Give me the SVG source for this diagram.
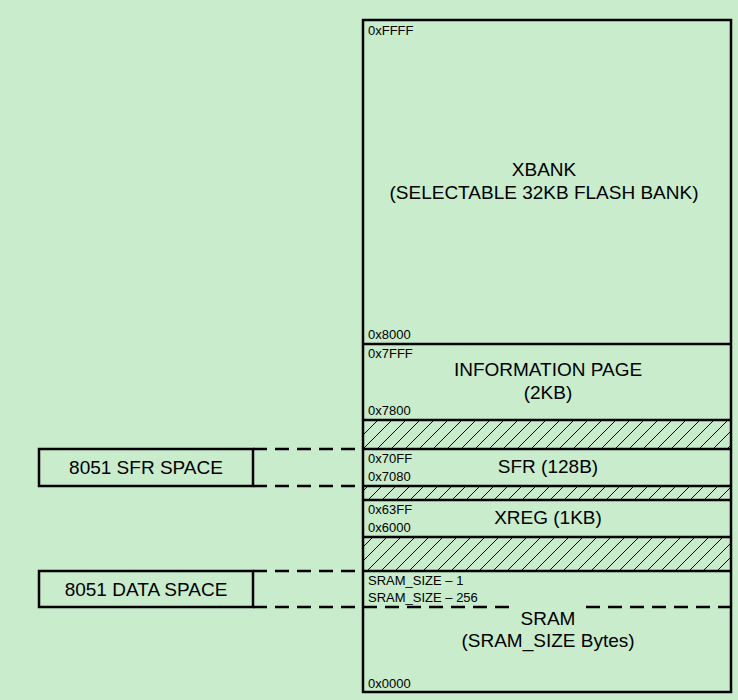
<svg xmlns="http://www.w3.org/2000/svg" width="738" height="700" viewBox="0 0 738 700">
<style>
.b{fill:none;stroke:#000;stroke-width:2.5}
.d{stroke:#000;stroke-width:2.5;stroke-dasharray:14,8;fill:none}
.s{font-family:"Liberation Sans",Arial,sans-serif;font-size:13px;fill:#000}
.m{font-family:"Liberation Sans",Arial,sans-serif;font-size:19px;fill:#000;text-anchor:middle}
</style>
<defs>
<pattern id="h" patternUnits="userSpaceOnUse" width="14" height="14">
<path d="M-2,16 L16,-2" stroke="#000" stroke-width="1"/>
<path d="M-2,2 L2,-2 M12,16 L16,12" stroke="#000" stroke-width="1"/>
</pattern>
</defs>
<rect width="738" height="700" fill="#c8eccc"/>
<g id="hatch">
<rect x="363" y="420" width="368" height="29" fill="url(#h)"/>
<rect x="363" y="486" width="368" height="14" fill="url(#h)"/>
<rect x="363" y="537" width="368" height="34" fill="url(#h)"/>
</g>
<g id="column">
<rect class="b" x="363" y="20" width="368" height="672"/>
<path class="b" d="M363,344H731M363,420H731M363,449H731M363,486H731M363,500H731M363,537H731M363,571H731"/>
</g>
<g id="xbank">
<text class="s" x="368" y="35">0xFFFF</text>
<text class="m" x="544" y="176">XBANK</text>
<text class="m" x="544" y="199">(SELECTABLE 32KB FLASH BANK)</text>
<text class="s" x="368" y="339">0x8000</text>
</g>
<g id="info">
<text class="s" x="368" y="358">0x7FFF</text>
<text class="m" x="548" y="376">INFORMATION PAGE</text>
<text class="m" x="548" y="399">(2KB)</text>
<text class="s" x="368" y="415">0x7800</text>
</g>
<g id="sfr">
<text class="s" x="368" y="463">0x70FF</text>
<text class="s" x="368" y="481">0x7080</text>
<text class="m" x="548" y="473">SFR (128B)</text>
</g>
<g id="xreg">
<text class="s" x="368" y="514">0x63FF</text>
<text class="s" x="368" y="532">0x6000</text>
<text class="m" x="548" y="524">XREG (1KB)</text>
</g>
<g id="sram">
<text class="s" x="368" y="585">SRAM_SIZE – 1</text>
<text class="s" x="368" y="602">SRAM_SIZE – 256</text>
<text class="m" x="548" y="625">SRAM</text>
<text class="m" x="548" y="647">(SRAM_SIZE Bytes)</text>
<text class="s" x="368" y="688">0x0000</text>
</g>
<g id="sfrspace">
<rect class="b" x="39" y="449" width="214" height="37"/>
<text class="m" x="146" y="474">8051 SFR SPACE</text>
</g>
<g id="dataspace">
<rect class="b" x="39" y="571" width="214" height="36"/>
<text class="m" x="146" y="596">8051 DATA SPACE</text>
</g>
<g id="connectors">
<path class="d" d="M253,449H363M253,486H363M253,571H363M253,607H510"/>
<path class="d" d="M586,607H731"/>
</g>
</svg>
